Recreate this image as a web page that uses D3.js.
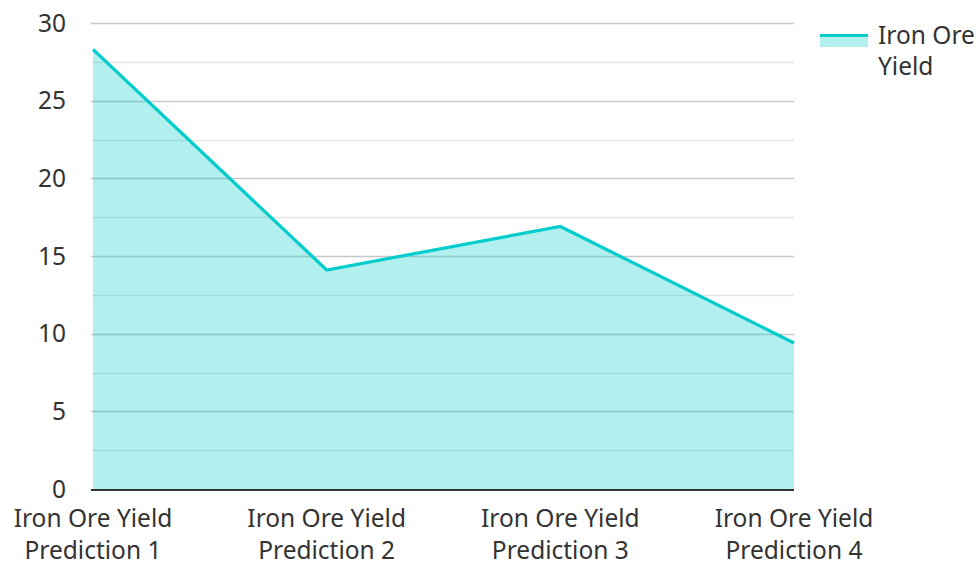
<!DOCTYPE html>
<html>
<head>
<meta charset="utf-8">
<script src="https://cdn.jsdelivr.net/npm/d3@7"></script>
<style>
  body { margin: 0; background: #fff; }
  text { font-family: "Noto Sans", "Open Sans", sans-serif; fill: #333; }
</style>
</head>
<body>
<script>
  const categories = [
    ['Iron Ore Yield', 'Prediction 1'],
    ['Iron Ore Yield', 'Prediction 2'],
    ['Iron Ore Yield', 'Prediction 3'],
    ['Iron Ore Yield', 'Prediction 4'],
  ];
  const yieldValues = [28.3, 14.1, 16.9, 9.4];
  const majorTicks = [0, 5, 10, 15, 20, 25, 30];
  const minorTicks = [2.5, 7.5, 12.5, 17.5, 22.5, 27.5];
  const seriesName = ['Iron Ore', 'Yield'];

  const width = 980;
  const height = 562;
  const margin = { top: 23, right: 186, bottom: 73, left: 93 };
  const innerWidth = width - margin.left - margin.right;
  const innerHeight = height - margin.top - margin.bottom;
  const lineColor = '#00cccc';

  const svg = d3
    .select('body')
    .append('svg')
    .attr('width', width)
    .attr('height', height);

  const g = svg
    .append('g')
    .attr('transform', `translate(${margin.left}, ${margin.top})`);

  const x = d3.scalePoint()
    .domain(d3.range(categories.length))
    .range([0, innerWidth]);
  const y = d3.scaleLinear().domain([0, 30]).range([innerHeight, 0]);

  // grid
  g.selectAll('.minor')
    .data(minorTicks)
    .enter()
    .append('line')
    .attr('x1', -2)
    .attr('x2', innerWidth)
    .attr('y1', (d) => Math.round(y(d)) + 0.5)
    .attr('y2', (d) => Math.round(y(d)) + 0.5)
    .style('stroke', '#e6e6e6')
    .style('stroke-width', 1.5);
  g.selectAll('.major')
    .data(majorTicks.filter((d) => d > 0))
    .enter()
    .append('line')
    .attr('x1', -2)
    .attr('x2', innerWidth)
    .attr('y1', (d) => Math.round(y(d)) + 0.5)
    .attr('y2', (d) => Math.round(y(d)) + 0.5)
    .style('stroke', '#c8c8c8')
    .style('stroke-width', 1.5);

  const area = d3.area()
    .x((d, i) => x(i))
    .y0(y(0))
    .y1((d) => y(d));
  const line = d3.line()
    .x((d, i) => x(i))
    .y((d) => y(d));

  g.append('path')
    .datum(yieldValues)
    .attr('d', area)
    .style('fill', lineColor)
    .style('fill-opacity', 0.3);

  g.append('path')
    .datum(yieldValues)
    .attr('d', line)
    .style('fill', 'none')
    .style('stroke', lineColor)
    .style('stroke-width', 3.2);

  // baseline
  g.append('line')
    .attr('x1', -2)
    .attr('x2', innerWidth)
    .attr('y1', y(0) + 1)
    .attr('y2', y(0) + 1)
    .style('stroke', '#333')
    .style('stroke-width', 2);

  // y labels
  g.selectAll('.ylabel')
    .data(majorTicks)
    .enter()
    .append('text')
    .attr('x', -27)
    .attr('y', (d) => y(d))
    .attr('dy', '0.35em')
    .attr('text-anchor', 'end')
    .style('font-size', '24.5px')
    .text((d) => d);

  // x labels
  const xl = g.selectAll('.xlabel')
    .data(categories)
    .enter()
    .append('text')
    .attr('text-anchor', 'middle')
    .style('font-size', '24.5px');
  xl.append('tspan')
    .attr('x', (d, i) => x(i))
    .attr('y', innerHeight + 38)
    .text((d) => d[0]);
  xl.append('tspan')
    .attr('x', (d, i) => x(i))
    .attr('y', innerHeight + 70)
    .text((d) => d[1]);

  // legend
  const legend = svg.append('g').attr('transform', 'translate(820, 34)');
  legend.append('rect')
    .attr('x', 0).attr('y', 0).attr('width', 48).attr('height', 13)
    .style('fill', lineColor).style('fill-opacity', 0.3);
  legend.append('line')
    .attr('x1', 0).attr('x2', 48).attr('y1', 1.5).attr('y2', 1.5)
    .style('stroke', lineColor).style('stroke-width', 3);
  legend.selectAll('text')
    .data(seriesName)
    .enter()
    .append('text')
    .attr('x', 58)
    .attr('y', (d, i) => 10 + i * 31)
    .style('font-size', '24.5px')
    .text((d) => d);
</script>
</body>
</html>
